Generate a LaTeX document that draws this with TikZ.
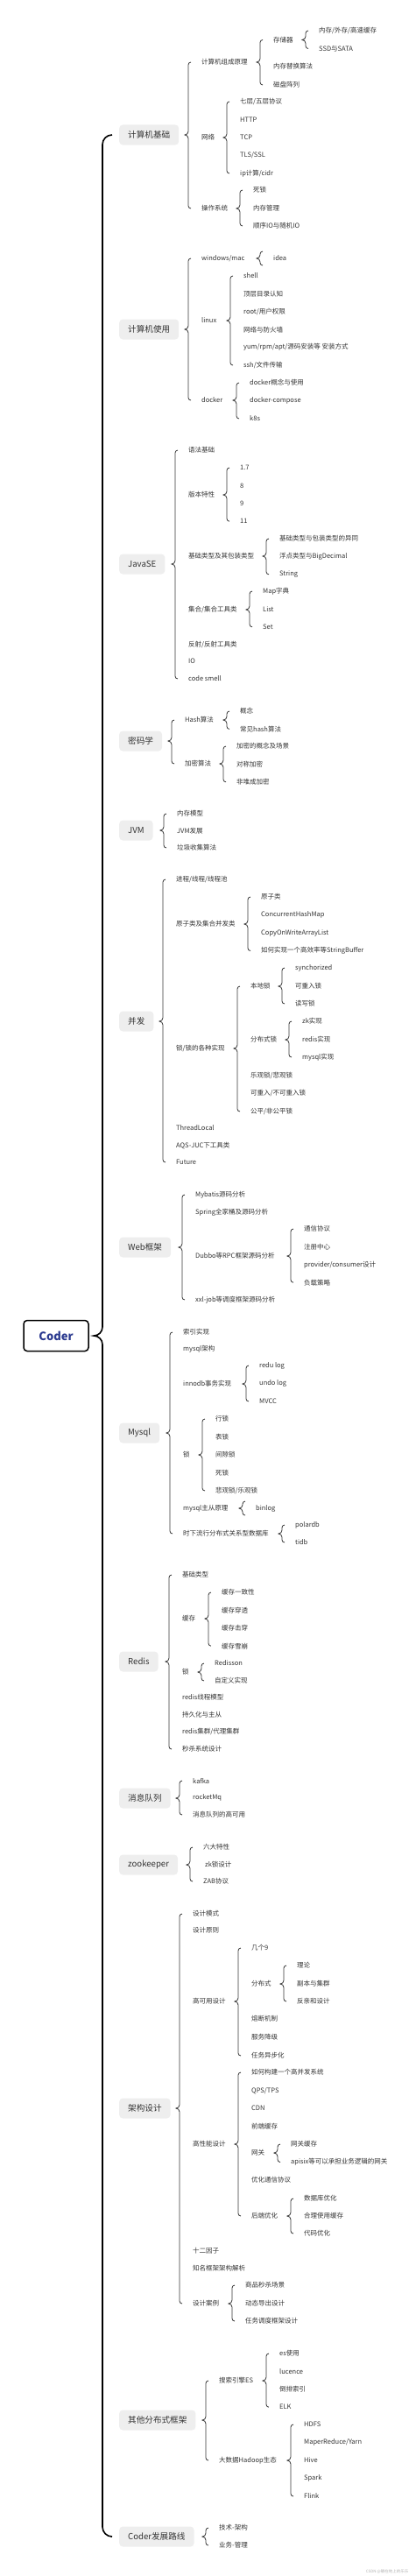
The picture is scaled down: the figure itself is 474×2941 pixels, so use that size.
\documentclass[tikz,border=0pt]{standalone}
\usepackage{fontspec}
\setmainfont{Noto Sans CJK SC}
\usetikzlibrary{calc}
\definecolor{ink}{HTML}{333333}
\definecolor{topicbg}{HTML}{EEEEEE}
\definecolor{coderblue}{HTML}{2B3A8F}
\tikzset{
 leaf/.style={anchor=west,inner xsep=0pt,inner ysep=1pt,text=ink,font=\fontsize{7.5}{8}\selectfont},
 topic/.style={anchor=west,fill=topicbg,rounded corners=4pt,inner xsep=10pt,minimum height=23pt,text=ink,font=\fontsize{9.6}{11}\selectfont},
 root/.style={draw=black,line width=1.5pt,rounded corners=4pt,minimum width=74pt,minimum height=35pt,text=coderblue,font=\fontsize{13}{15}\selectfont\bfseries},
 brc/.style={draw=ink,line width=.8pt},
}
% curly brace from parent #2 to the children #3..#4 (#1 stretches it for a lone child)
\newcommand\brc[4][0pt]{\draw[brc] let \p1=(#3.west),\p2=(#4.west),\p3=(#2.east) in
 (\x1-12pt,\y1+#1) arc[start angle=90,end angle=180,radius=3pt] -- (\x1-15pt,\y3+4pt)
 to[out=-90,in=0] (\x1-19pt,\y3) to[out=0,in=90] (\x1-15pt,\y3-4pt)
 -- (\x1-15pt,\y2-#1+3pt) arc[start angle=180,end angle=270,radius=3pt];}
\begin{document}
\begin{tikzpicture}[x=1pt,y=-1pt]
\useasboundingbox (0,0) rectangle (474,2941);
\node[root] (coder) at (64,1525) {Coder};
\foreach \n/\y/\t in {cb/154/计算机基础,cu/376/计算机使用,jse/644/JavaSE,cr/846/密码学,jvm/948/JVM,co/1166/并发,we/1424/Web框架,my/1636/Mysql,re/1897/Redis,mq/2053/消息队列,zk/2129/zookeeper,ar/2407/架构设计,di/2763/其他分布式框架,rd/2896/Coder发展路线}
 \node[topic] (\n) at (136,\y) {\t};
\draw[line width=1.6pt] let \p1=(cb.west),\p2=(rd.west),\p3=(coder.east) in
 (\x1-8pt,\y1) arc[start angle=90,end angle=180,radius=11pt] -- (\x1-19pt,\y3+10pt)
 to[out=-90,in=0] (\x1-29pt,\y3) to[out=0,in=90] (\x1-19pt,\y3-10pt)
 -- (\x1-19pt,\y2+11pt) arc[start angle=180,end angle=270,radius=11pt];

% 计算机基础
\foreach \n/\y/\t in {cb1/71/计算机组成原理,cb2/157/网络,cb3/238/操作系统} \node[leaf] (\n) at (230,\y) {\t};
\foreach \n/\y/\t in {cb1a/45.5/存储器,cb1b/76/内存替换算法,cb1c/97/磁盘阵列} \node[leaf] (\n) at (312,\y) {\t};
\foreach \t [count=\i] in {内存/外存/高速缓存,SSD与SATA} \node[leaf] (cb1a-\i) at (364,{35+20.5*(\i-1)}) {\t};
\foreach \t [count=\i] in {七层/五层协议,HTTP,TCP,TLS/SSL,ip计算/cidr} \node[leaf] (cb2-\i) at (274,{116+20.5*(\i-1)}) {\t};
\foreach \t [count=\i] in {死锁,内存管理,顺序IO与随机IO} \node[leaf] (cb3-\i) at (289,{217+20.5*(\i-1)}) {\t};
\brc{cb}{cb1}{cb3} \brc{cb1}{cb1a}{cb1c} \brc{cb1a}{cb1a-1}{cb1a-2}
\brc{cb2}{cb2-1}{cb2-5} \brc{cb3}{cb3-1}{cb3-3}

% 计算机使用
\foreach \n/\y/\t in {cu1/295/{windows/mac},cu2/366/linux,cu3/457/docker} \node[leaf] (\n) at (230,\y) {\t};
\node[leaf] (cu1-1) at (312,295) {idea};
\foreach \t [count=\i] in {shell,顶层目录认知,root/用户权限,网络与防火墙,yum/rpm/apt/源码安装等 安装方式,ssh/文件传输}
 \node[leaf] (cu2-\i) at (278,{315+20.4*(\i-1)}) {\t};
\foreach \t [count=\i] in {docker概念与使用,docker-compose,k8s} \node[leaf] (cu3-\i) at (285,{437+20.5*(\i-1)}) {\t};
\brc{cu}{cu1}{cu3} \brc[8pt]{cu1}{cu1-1}{cu1-1} \brc{cu2}{cu2-1}{cu2-6} \brc{cu3}{cu3-1}{cu3-3}

% JavaSE
\foreach \n/\y/\t in {jse1/514/语法基础,jse2/565/版本特性,jse3/635/基础类型及其包装类型,jse4/696/{集合/集合工具类},jse5/736/{反射/反射工具类},jse6/755/IO,jse7/775/code smell}
 \node[leaf] (\n) at (215,\y) {\t};
\foreach \t [count=\i] in {1.7,8,9,11} \node[leaf] (jse2-\i) at (274,{534+20.4*(\i-1)}) {\t};
\foreach \t [count=\i] in {基础类型与包装类型的异同,浮点类型与BigDecimal,String} \node[leaf] (jse3-\i) at (319,{615+20.4*(\i-1)}) {\t};
\foreach \t [count=\i] in {Map字典,List,Set} \node[leaf] (jse4-\i) at (300,{675+20.4*(\i-1)}) {\t};
\brc{jse}{jse1}{jse7} \brc{jse2}{jse2-1}{jse2-4} \brc{jse3}{jse3-1}{jse3-3} \brc{jse4}{jse4-1}{jse4-3}

% 密码学
\node[leaf] (cr1) at (211,822) {Hash算法};
\node[leaf] (cr2) at (211,872) {加密算法};
\foreach \t [count=\i] in {概念,常见hash算法} \node[leaf] (cr1-\i) at (274,{812+20.4*(\i-1)}) {\t};
\foreach \t [count=\i] in {加密的概念及场景,对称加密,非堆成加密} \node[leaf] (cr2-\i) at (270,{852+20.4*(\i-1)}) {\t};
\brc{cr}{cr1}{cr2} \brc{cr1}{cr1-1}{cr1-2} \brc{cr2}{cr2-1}{cr2-3}

% JVM
\foreach \t [count=\i] in {内存模型,JVM发展,垃圾收集算法} \node[leaf] (jvm-\i) at (202,{929+19.5*(\i-1)}) {\t};
\brc{jvm}{jvm-1}{jvm-3}

% 并发
\foreach \n/\y/\t in {co1/1004/{进程/线程/线程池},co2/1055/原子类及集合并发类,co3/1197/{锁/锁的各种实现},co4/1288/ThreadLocal,co5/1308/AQS-JUC下工具类,co6/1327/Future}
 \node[leaf] (\n) at (201,\y) {\t};
\foreach \t [count=\i] in {原子类,ConcurrentHashMap,CopyOnWriteArrayList,如何实现一个高效率等StringBuffer}
 \node[leaf] (co2-\i) at (298,{1024+20.5*(\i-1)}) {\t};
\foreach \n/\y/\t in {co3a/1126/本地锁,co3b/1187/分布式锁,co3c/1228/{乐观锁/悲观锁},co3d/1248/{可重入/不可重入锁},co3e/1269/{公平/非公平锁}}
 \node[leaf] (\n) at (286,\y) {\t};
\foreach \t [count=\i] in {synchorized,可重入锁,读写锁} \node[leaf] (co3a-\i) at (337,{1105+20.5*(\i-1)}) {\t};
\foreach \t [count=\i] in {zk实现,redis实现,mysql实现} \node[leaf] (co3b-\i) at (345,{1166+20.5*(\i-1)}) {\t};
\brc{co}{co1}{co6} \brc{co2}{co2-1}{co2-4} \brc{co3}{co3a}{co3e} \brc{co3a}{co3a-1}{co3a-3} \brc{co3b}{co3b-1}{co3b-3}

% Web框架
\foreach \n/\y/\t in {we1/1364/Mybatis源码分析,we2/1384/Spring全家桶及源码分析,we3/1434/Dubbo等RPC框架源码分析,we4/1484/xxl-job等调度框架源码分析}
 \node[leaf] (\n) at (223,\y) {\t};
\foreach \t [count=\i] in {通信协议,注册中心,provider/consumer设计,负载策略} \node[leaf] (we3-\i) at (347,{1403+20.4*(\i-1)}) {\t};
\brc{we}{we1}{we4} \brc{we3}{we3-1}{we3-4}

% Mysql
\foreach \n/\y/\t in {my1/1521/索引实现,my2/1540/mysql架构,my3/1580/innodb事务实现,my4/1661/锁,my5/1722/mysql主从原理,my6/1751/时下流行分布式关系型数据库}
 \node[leaf] (\n) at (209,\y) {\t};
\foreach \t [count=\i] in {redu log,undo log,MVCC} \node[leaf] (my3-\i) at (296,{1559+20.5*(\i-1)}) {\t};
\foreach \t [count=\i] in {行锁,表锁,间隙锁,死锁,悲观锁/乐观锁} \node[leaf] (my4-\i) at (246,{1620+20.5*(\i-1)}) {\t};
\node[leaf] (my5-1) at (292,1722) {binlog};
\foreach \t [count=\i] in {polardb,tidb} \node[leaf] (my6-\i) at (337,{1741+20*(\i-1)}) {\t};
\brc{my}{my1}{my6} \brc{my3}{my3-1}{my3-3} \brc{my4}{my4-1}{my4-5} \brc[8pt]{my5}{my5-1}{my5-1} \brc{my6}{my6-1}{my6-2}

% Redis
\foreach \n/\y/\t in {re1/1798/基础类型,re2/1848/缓存,re3/1909/锁,re4/1938/redis线程模型,re5/1958/持久化与主从,re6/1977/{redis集群/代理集群},re7/1997/秒杀系统设计}
 \node[leaf] (\n) at (208,\y) {\t};
\foreach \t [count=\i] in {缓存一致性,缓存穿透,缓存击穿,缓存雪崩} \node[leaf] (re2-\i) at (253,{1818+20.4*(\i-1)}) {\t};
\foreach \t [count=\i] in {Redisson,自定义实现} \node[leaf] (re3-\i) at (245,{1899+20*(\i-1)}) {\t};
\brc{re}{re1}{re7} \brc{re2}{re2-1}{re2-4} \brc{re3}{re3-1}{re3-2}

% 消息队列, zookeeper
\foreach \t [count=\i] in {kafka,rocketMq,消息队列的高可用} \node[leaf] (mq-\i) at (220,{2033+19.5*(\i-1)}) {\t};
\foreach \t [count=\i] in {六大特性,\kern2pt zk锁设计,ZAB协议} \node[leaf] (zk-\i) at (232,{2109+19.5*(\i-1)}) {\t};
\brc{mq}{mq-1}{mq-3} \brc{zk}{zk-1}{zk-3}

% 架构设计
\foreach \n/\y/\t in {ar1/2185/设计模式,ar2/2204/设计原则,ar3/2285/高可用设计,ar4/2448/高性能设计,ar5/2570/十二因子,ar6/2590/知名框架架构解析,ar7/2630/设计案例}
 \node[leaf] (\n) at (220,\y) {\t};
\foreach \n/\y/\t in {ar3a/2224/几个9,ar3b/2265/分布式,ar3c/2305/熔断机制,ar3d/2326/服务降级,ar3e/2347/任务异步化}
 \node[leaf] (\n) at (287,\y) {\t};
\foreach \t [count=\i] in {理论,副本与集群,反亲和设计} \node[leaf] (ar3b-\i) at (339,{2244+20.5*(\i-1)}) {\t};
\foreach \n/\y/\t in {ar4a/2366/如何构建一个高并发系统,ar4b/2387/{QPS/TPS},ar4c/2407/CDN,ar4d/2428/前端缓存,ar4e/2458/网关,ar4f/2489/优化通信协议,ar4g/2530/后端优化}
 \node[leaf] (\n) at (287,\y) {\t};
\foreach \t [count=\i] in {网关缓存,apisix等可以承担业务逻辑的网关} \node[leaf] (ar4e-\i) at (332,{2448+20.5*(\i-1)}) {\t};
\foreach \t [count=\i] in {数据库优化,合理使用缓存,代码优化} \node[leaf] (ar4g-\i) at (347,{2510+20*(\i-1)}) {\t};
\foreach \t [count=\i] in {商品秒杀场景,动态导出设计,任务调度框架设计} \node[leaf] (ar7-\i) at (280,{2609+20.5*(\i-1)}) {\t};
\brc{ar}{ar1}{ar7} \brc{ar3}{ar3a}{ar3e} \brc{ar3b}{ar3b-1}{ar3b-3} \brc{ar4}{ar4a}{ar4g}
\brc{ar4e}{ar4e-1}{ar4e-2} \brc{ar4g}{ar4g-1}{ar4g-3} \brc{ar7}{ar7-1}{ar7-3}

% 其他分布式框架, Coder发展路线
\node[leaf] (di1) at (250,2718) {搜索引擎ES};
\node[leaf] (di2) at (250,2809) {大数据Hadoop生态};
\foreach \t [count=\i] in {es使用,lucence,倒排索引,ELK} \node[leaf] (di1-\i) at (319,{2687+20.4*(\i-1)}) {\t};
\foreach \t [count=\i] in {HDFS,MaperReduce/Yarn,Hive,Spark,Flink} \node[leaf] (di2-\i) at (347,{2768+20.5*(\i-1)}) {\t};
\foreach \t [count=\i] in {技术-架构,业务-管理} \node[leaf] (rd-\i) at (250,{2886+20*(\i-1)}) {\t};
\brc{di}{di1}{di2} \brc{di1}{di1-1}{di1-4} \brc{di2}{di2-1}{di2-5} \brc{rd}{rd-1}{rd-2}

\node[anchor=east,text=gray!60,font=\fontsize{4.5}{5}\selectfont] (mark) at (470,2936) {CSDN @躺在地上的乐乐};
\end{tikzpicture}
\end{document}
